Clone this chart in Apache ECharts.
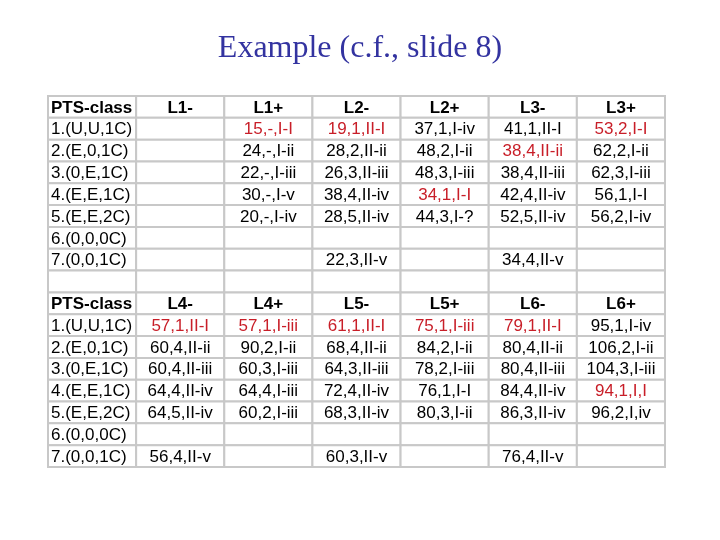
<!DOCTYPE html>
<html>
<head>
<meta charset="utf-8">
<script src="https://cdn.jsdelivr.net/npm/echarts@6/dist/echarts.min.js"></script>
<style>html,body{margin:0;background:#fff}#main{width:720px;height:540px}</style>
</head>
<body>
<div id="main"></div>
<script>
// table data
const headers1 = ['PTS-class', 'L1-', 'L1+', 'L2-', 'L2+', 'L3-', 'L3+'];
const headers2 = ['PTS-class', 'L4-', 'L4+', 'L5-', 'L5+', 'L6-', 'L6+'];
const classes = ['1.(U,U,1C)', '2.(E,0,1C)', '3.(0,E,1C)', '4.(E,E,1C)', '5.(E,E,2C)', '6.(0,0,0C)', '7.(0,0,1C)'];
const block1 = [
  ['', '15,-,I-I', '19,1,II-I', '37,1,I-iv', '41,1,II-I', '53,2,I-I'],
  ['', '24,-,I-ii', '28,2,II-ii', '48,2,I-ii', '38,4,II-ii', '62,2,I-ii'],
  ['', '22,-,I-iii', '26,3,II-iii', '48,3,I-iii', '38,4,II-iii', '62,3,I-iii'],
  ['', '30,-,I-v', '38,4,II-iv', '34,1,I-I', '42,4,II-iv', '56,1,I-I'],
  ['', '20,-,I-iv', '28,5,II-iv', '44,3,I-?', '52,5,II-iv', '56,2,I-iv'],
  ['', '', '', '', '', ''],
  ['', '', '22,3,II-v', '', '34,4,II-v', '']
];
const block2 = [
  ['57,1,II-I', '57,1,I-iii', '61,1,II-I', '75,1,I-iii', '79,1,II-I', '95,1,I-iv'],
  ['60,4,II-ii', '90,2,I-ii', '68,4,II-ii', '84,2,I-ii', '80,4,II-ii', '106,2,I-ii'],
  ['60,4,II-iii', '60,3,I-iii', '64,3,II-iii', '78,2,I-iii', '80,4,II-iii', '104,3,I-iii'],
  ['64,4,II-iv', '64,4,I-iii', '72,4,II-iv', '76,1,I-I', '84,4,II-iv', '94,1,I,I'],
  ['64,5,II-iv', '60,2,I-iii', '68,3,II-iv', '80,3,I-ii', '86,3,II-iv', '96,2,I,iv'],
  ['', '', '', '', '', ''],
  ['56,4,II-v', '', '60,3,II-v', '', '76,4,II-v', '']
];
// highlighted cells: [row, column]
const redCells1 = [[0, 1], [0, 2], [0, 5], [1, 4], [3, 3]];
const redCells2 = [[0, 0], [0, 1], [0, 2], [0, 3], [0, 4], [3, 5]];

const rowNames = [];
for (let i = 0; i < 17; i++) rowNames.push('r' + i);
const colNames = headers1.map((_, i) => 'c' + i);

const cells = [];
function isRed(list, r, c) { return list.some(p => p[0] === r && p[1] === c); }
function addBlock(headers, values, reds, start) {
  headers.forEach((h, c) => cells.push([c, start, h, 0, 1]));
  values.forEach((row, r) => {
    cells.push([0, start + 1 + r, classes[r], 0, 0]);
    row.forEach((v, c) => cells.push([c + 1, start + 1 + r, v, isRed(reds, r, c) ? 1 : 0, 0]));
  });
}
addBlock(headers1, block1, redCells1, 0);
for (let c = 0; c < 7; c++) cells.push([c, 8, '', 0, 0]);
addBlock(headers2, block2, redCells2, 9);

const chart = echarts.init(document.getElementById('main'));
chart.setOption({
  title: {
    text: 'Example (c.f., slide 8)', left: 'center', top: 28,
    textStyle: { fontFamily: 'Liberation Serif', fontSize: 32, fontWeight: 'normal', color: '#3333a0' }
  },
  grid: { left: 48, right: 55, top: 96, bottom: 73 },
  xAxis: { type: 'category', data: colNames, show: false },
  yAxis: { type: 'category', data: rowNames, inverse: true, show: false },
  series: [{
    type: 'custom',
    data: cells,
    renderItem: function (params, api) {
      const p = api.coord([api.value(0), api.value(1)]);
      const s = api.size([1, 1]);
      const col = api.value(0);
      const txt = cells[params.dataIndex][2];
      const red = api.value(3) === 1, bold = api.value(4) === 1;
      return {
        type: 'group',
        children: [{
          type: 'rect',
          shape: { x: p[0] - s[0] / 2, y: p[1] - s[1] / 2, width: s[0], height: s[1] },
          style: { fill: '#fff', stroke: '#c8c8c8', lineWidth: 2 }
        }, {
          type: 'text',
          x: col === 0 ? p[0] - s[0] / 2 + 3 : p[0],
          y: p[1] + 1,
          style: {
            text: txt, fontFamily: 'Liberation Sans', fontSize: 17,
            fontWeight: bold ? 'bold' : 'normal',
            fill: red ? '#c81e28' : '#000',
            align: col === 0 ? 'left' : 'center', verticalAlign: 'middle'
          }
        }]
      };
    }
  }]
});
</script>
</body>
</html>
